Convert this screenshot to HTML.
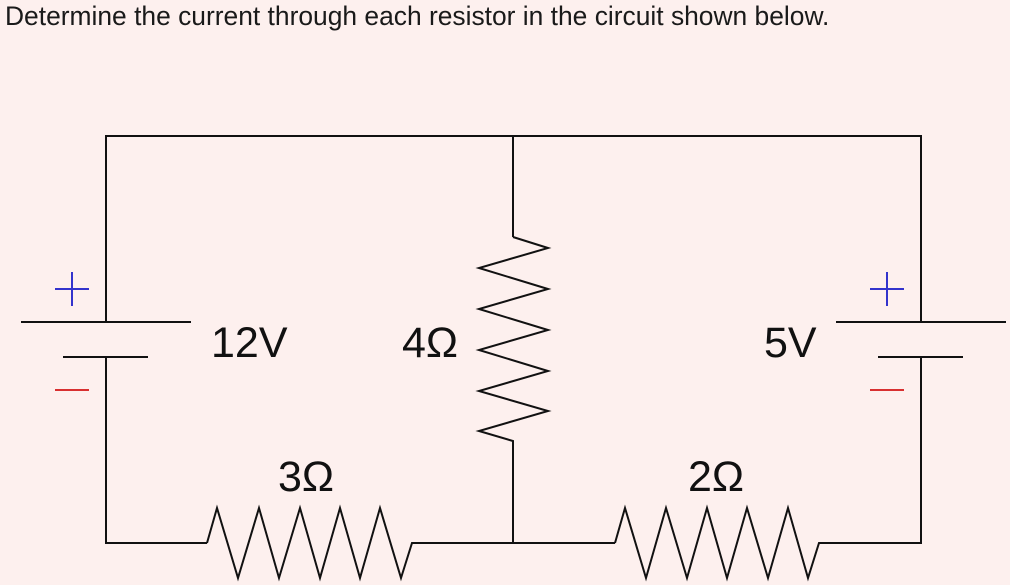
<!DOCTYPE html>
<html>
<head>
<meta charset="utf-8">
<style>
  html, body { margin: 0; padding: 0; }
  body { width: 1010px; height: 585px; background: #fdf0ee; overflow: hidden; }
  svg { display: block; }
</style>
</head>
<body>
<svg width="1010" height="585" viewBox="0 0 1010 585" xmlns="http://www.w3.org/2000/svg">
  <rect width="1010" height="585" fill="#fdf0ee"/>
  <text x="5" y="25" font-family="Liberation Sans, Arial, sans-serif" font-size="26.4" fill="#1a1a1a">Determine the current through each resistor in the circuit shown below.</text>

  <g fill="none" stroke="#111" stroke-width="2" stroke-linejoin="miter">
    <!-- top wire -->
    <path d="M106 322 V136 H921 V322"/>
    <!-- middle vertical -->
    <path d="M513 136 V237"/>
    <path d="M513 237 L548 248 L479 268 L548 289 L479 309 L548 330 L479 350 L548 371 L479 391 L548 411 L479 431 L513 441 V543"/>
    <!-- left battery -->
    <path d="M21 322 H191"/>
    <path d="M63 357 H148"/>
    <path d="M106 357 V543 H207"/>
    <!-- left resistor -->
    <path d="M207 543 L217 508 L238 578 L259 508 L279 578 L300 508 L320 578 L340 508 L360 578 L380 508 L401 578 L412 543 H615"/>
    <!-- right resistor -->
    <path d="M615 543 L625 508 L646 578 L666 508 L687 578 L707 508 L727 578 L747 508 L768 578 L788 508 L808 578 L819 543 H921 V357"/>
    <!-- right battery -->
    <path d="M836 322 H1006"/>
    <path d="M878 357 H963"/>
  </g>

  <!-- polarity marks -->
  <g stroke="#3333cc" stroke-width="2">
    <path d="M55 289 H89 M72 272 V306"/>
    <path d="M870 289 H904 M887 272 V306"/>
  </g>
  <g stroke="#d83030" stroke-width="2">
    <path d="M55 390 H89"/>
    <path d="M870 390 H904"/>
  </g>

  <g font-family="Liberation Sans, Arial, sans-serif" font-size="43" fill="#111">
    <text x="211" y="357">12V</text>
    <text x="402" y="357">4Ω</text>
    <text x="764" y="357">5V</text>
    <text x="278" y="491">3Ω</text>
    <text x="688" y="491">2Ω</text>
  </g>
</svg>
</body>
</html>
